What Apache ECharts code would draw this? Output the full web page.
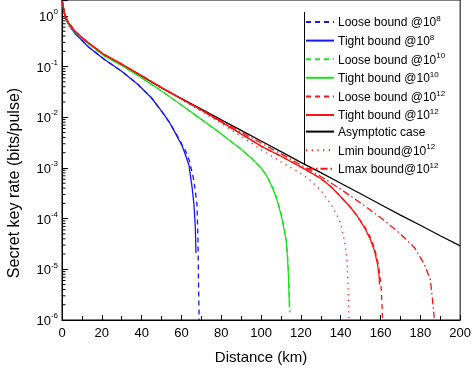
<!DOCTYPE html>
<html>
<head>
<meta charset="utf-8">
<script src="https://cdn.jsdelivr.net/npm/echarts@6/dist/echarts.min.js"></script>
<style>
html,body{margin:0;padding:0;background:#fff;}
#c{width:474px;height:370px;}
</style>
</head>
<body>
<div id="c"></div>
<script>
// ---- data (distance in km, secret key rate in bits/pulse) ----
const xTicks = [0, 20, 40, 60, 80, 100, 120, 140, 160, 180, 200];
const yDecades = [-6, -5, -4, -3, -2, -1, 0];
const yMinorMults = [2, 3, 4, 5, 6, 7, 8, 9];

const distBlueTight = [0, 0.5, 1.5, 3.3, 6.5, 10, 13, 21, 30, 38, 45, 50, 54, 57, 60.3, 62, 63.8, 65.4, 66.3, 67, 67.3];
const rateBlueTight = [2.05, 1.55, 0.95, 0.68, 0.45, 0.33, 0.25, 0.141, 0.081, 0.0447, 0.024, 0.0132, 0.0079, 0.0048, 0.00275, 0.00182, 0.00112, 0.0004, 0.000186, 6.3e-5, 2.1e-5];

const distBlueLoose = [0, 0.5, 1.5, 3.3, 6.5, 10, 13, 21, 30, 38, 45, 50, 54, 57, 60.3, 62, 64, 66, 67, 67.8, 68.3, 68.6, 68.9];
const rateBlueLoose = [2.05, 1.55, 0.95, 0.68, 0.45, 0.33, 0.25, 0.141, 0.081, 0.0447, 0.024, 0.0132, 0.0079, 0.005, 0.0029, 0.0022, 0.00138, 0.00063, 0.00035, 0.000186, 4e-5, 5e-6, 1e-6];

const distGreenTight = [0, 0.5, 1.5, 3.3, 6.5, 10, 13, 21, 30, 40, 50, 60, 70, 80, 90, 95, 100, 103, 106, 108, 110, 111.5, 112.7, 113.3, 113.8, 114.2];
const rateGreenTight = [2.1, 1.58, 0.98, 0.70, 0.48, 0.36, 0.29, 0.165, 0.105, 0.06, 0.033, 0.0174, 0.0091, 0.0047, 0.00234, 0.00158, 0.001, 0.00068, 0.00038, 0.000234, 0.00012, 6.3e-5, 3.5e-5, 1.58e-5, 7.1e-6, 1.78e-6];

const distGreenLoose = [0, 0.5, 1.5, 3.3, 6.5, 10, 13, 21, 30, 40, 50, 60, 70, 80, 90, 95, 100, 103, 106, 108, 110, 111.5, 112.7, 113.4, 114, 114.5];
const rateGreenLoose = [2.1, 1.58, 0.98, 0.70, 0.48, 0.36, 0.29, 0.165, 0.105, 0.06, 0.033, 0.0174, 0.0091, 0.0047, 0.00234, 0.00158, 0.001, 0.00069, 0.0004, 0.00025, 0.00013, 7e-5, 3.8e-5, 1.6e-5, 6e-6, 1.4e-6];

const distRedTight = [0, 0.5, 1.5, 3.3, 6.5, 10, 13, 21, 30, 40, 50, 60, 70, 80, 90, 100, 110, 120, 130, 135, 140, 145, 148, 152, 155, 157, 158.5, 159.2, 159.5];
const rateRedTight = [2.15, 1.62, 1.02, 0.73, 0.50, 0.375, 0.30, 0.175, 0.112, 0.066, 0.0385, 0.0229, 0.0138, 0.0081, 0.0047, 0.0027, 0.0017, 0.00105, 0.00062, 0.00043, 0.00027, 0.000166, 0.000117, 6.6e-5, 3.8e-5, 2.3e-5, 1.26e-5, 7.9e-6, 5.0e-6];

const distRedLoose = [0, 0.5, 1.5, 3.3, 6.5, 10, 13, 21, 30, 40, 50, 60, 70, 80, 90, 100, 110, 120, 130, 135, 140, 145, 148, 152, 155, 157, 159, 160.2, 160.7, 161];
const rateRedLoose = [2.15, 1.62, 1.02, 0.73, 0.50, 0.375, 0.30, 0.175, 0.112, 0.066, 0.0385, 0.0229, 0.0138, 0.0081, 0.0047, 0.0027, 0.0017, 0.00105, 0.00062, 0.00043, 0.00027, 0.000166, 0.000117, 7.0e-5, 4.2e-5, 2.6e-5, 1.2e-5, 5.0e-6, 2.2e-6, 1.0e-6];

const distAsym = [0, 0.5, 1.5, 3.3, 6.5, 10, 13, 21, 30, 40, 50, 60, 70, 80, 90, 100, 110, 120, 130, 140, 150, 160, 170, 180, 190, 200];
const rateAsym = [2.1, 1.6, 1.0, 0.72, 0.49, 0.37, 0.295, 0.17, 0.11, 0.065, 0.038, 0.0234, 0.0145, 0.0089, 0.0055, 0.0034, 0.0021, 0.00129, 0.00081, 0.0005, 0.00031, 0.00019, 0.000117, 7.4e-5, 4.6e-5, 2.9e-5];

const distLmin = [0, 0.5, 1.5, 3.3, 6.5, 10, 13, 21, 30, 40, 50, 60, 70, 80, 90, 100, 110, 120, 125, 130, 135, 138, 140, 142, 143, 143.6, 144, 144.2];
const rateLmin = [2.15, 1.62, 1.02, 0.73, 0.50, 0.375, 0.30, 0.175, 0.112, 0.066, 0.0385, 0.0224, 0.0132, 0.0076, 0.0042, 0.0023, 0.00132, 0.00078, 0.00056, 0.00036, 0.000195, 0.00012, 7.9e-5, 3.5e-5, 1.78e-5, 6.0e-6, 1.6e-6, 1.0e-6];

const distLmax = [0, 0.5, 1.5, 3.3, 6.5, 10, 13, 21, 30, 40, 50, 60, 70, 80, 90, 100, 110, 120, 130, 140, 150, 160, 168.6, 172, 177, 182, 185, 186, 187];
const rateLmax = [2.15, 1.62, 1.02, 0.73, 0.50, 0.375, 0.30, 0.175, 0.112, 0.066, 0.0385, 0.0234, 0.0141, 0.0085, 0.0051, 0.0031, 0.0019, 0.00115, 0.00068, 0.00038, 0.000204, 0.000105, 5.6e-5, 4.2e-5, 2.7e-5, 1.26e-5, 6.3e-6, 2.8e-6, 1.1e-6];

const legendNames = [
  'Loose bound @10^8', 'Tight bound @10^8',
  'Loose bound @10^10', 'Tight bound @10^10',
  'Loose bound @10^12', 'Tight bound @10^12',
  'Asymptotic case', 'Lmin bound@10^12', 'Lmax bound@10^12'
];

function pairs(xs, ys) { return xs.map((x, i) => [x, ys[i]]); }

const BLUE = '#1515ff', GREEN = '#1ee01e', RED = '#ff1010', BLACK = '#000000';

function lineSeries(name, xs, ys, color, type, z) {
  return {
    name: name, type: 'line', data: pairs(xs, ys),
    symbol: 'none', smooth: false,
    lineStyle: { color: color, width: 1.3, type: type },
    itemStyle: { color: color },
    z: z, animation: false
  };
}

const minorTickData = [];
yDecades.forEach(function (d) {
  yMinorMults.forEach(function (m) {
    const v = m * Math.pow(10, d);
    if (v <= 2.06) minorTickData.push([0, v]);
  });
});

const chart = echarts.init(document.getElementById('c'), null, { renderer: 'canvas' });

const FONT = 'Liberation Sans, Arial, sans-serif';

chart.setOption({
  animation: false,
  backgroundColor: '#fff',
  grid: { left: 62, right: 11, top: 0, bottom: 47, show: true, borderColor: '#000', borderWidth: 1 },
  xAxis: {
    type: 'value', min: 0, max: 200, interval: 20,
    name: 'Distance (km)', nameLocation: 'middle', nameGap: 30,
    nameTextStyle: { fontFamily: FONT, fontSize: 15, color: '#000' },
    axisLine: { show: true, lineStyle: { color: '#000', width: 1 } },
    axisTick: { inside: true, length: 5, lineStyle: { color: '#000' } },
    minorTick: { show: true, splitNumber: 2, length: 4, lineStyle: { color: '#000' } },
    splitLine: { show: false },
    axisLabel: { fontFamily: FONT, fontSize: 13, color: '#000', margin: 7 }
  },
  yAxis: {
    type: 'log', logBase: 10, min: 1e-6, max: 2.06, interval: 1,
    axisLine: { show: true, lineStyle: { color: '#000', width: 1 } },
    axisTick: { inside: true, length: 6, lineStyle: { color: '#000' } },
    splitLine: { show: false },
    axisLabel: {
      margin: 4, color: '#000', fontFamily: FONT,
      formatter: function (v) {
        const e = Math.log10(v);
        const r = Math.round(e);
        if (Math.abs(e - r) > 1e-6) return '';
        return '{b|10}{s|' + r + '}';
      },
      rich: {
        b: { fontFamily: FONT, fontSize: 13, color: '#000', lineHeight: 16, verticalAlign: 'bottom' },
        s: { fontFamily: FONT, fontSize: 8, color: '#000', lineHeight: 16, verticalAlign: 'top' }
      }
    }
  },
  legend: {
    data: legendNames,
    orient: 'vertical', left: 305, top: 15,
    padding: 0, itemWidth: 28, itemHeight: 12, itemGap: 4.6,
    itemStyle: { opacity: 0, borderWidth: 0 },
    textStyle: { fontFamily: FONT, fontSize: 12, color: '#000', padding: [0, 0, 0, -1] },
    formatter: function (name) {
      const parts = name.split('^');
      if (parts.length === 1) return '{t|' + name + '}';
      return '{t|' + parts[0] + '}{s|' + parts[1] + '}';
    },
    selectedMode: false
  },
  textStyle: { fontFamily: FONT },
  graphic: [
    { type: 'line', shape: { x1: 304.5, y1: 12, x2: 304.5, y2: 165 }, style: { stroke: '#000', lineWidth: 1 }, z: 100 },
    { type: 'text', x: 15, y: 183, rotation: Math.PI / 2,
      style: { text: 'Secret key rate (bits/pulse)', font: '16px ' + FONT, fill: '#000', textAlign: 'center', textVerticalAlign: 'middle' } }
  ],
  series: [
    lineSeries(legendNames[6], distAsym, rateAsym, BLACK, 'solid', 2),
    lineSeries(legendNames[0], distBlueLoose, rateBlueLoose, BLUE, [5, 4], 3),
    lineSeries(legendNames[1], distBlueTight, rateBlueTight, BLUE, 'solid', 3),
    lineSeries(legendNames[2], distGreenLoose, rateGreenLoose, GREEN, [5, 4], 3),
    lineSeries(legendNames[3], distGreenTight, rateGreenTight, GREEN, 'solid', 3),
    lineSeries(legendNames[7], distLmin, rateLmin, RED, [1.2, 4.5], 3),
    lineSeries(legendNames[8], distLmax, rateLmax, RED, [7, 3, 1.5, 3], 3),
    lineSeries(legendNames[4], distRedLoose, rateRedLoose, RED, [5, 4], 4),
    lineSeries(legendNames[5], distRedTight, rateRedTight, RED, 'solid', 4),
    {
      type: 'custom', name: 'yminor', silent: true, animation: false, z: 5,
      data: minorTickData, encode: { x: 0, y: 1 },
      renderItem: function (params, api) {
        const p = api.coord([api.value(0), api.value(1)]);
        return { type: 'line', shape: { x1: p[0], y1: p[1], x2: p[0] + 3.5, y2: p[1] }, style: { stroke: '#000', lineWidth: 1 } };
      }
    }
  ]
});

chart.setOption({
  legend: {
    textStyle: {
      rich: {
        t: { fontFamily: FONT, fontSize: 12, color: '#000', lineHeight: 14, verticalAlign: 'bottom' },
        s: { fontFamily: FONT, fontSize: 8, color: '#000', lineHeight: 14, verticalAlign: 'top' }
      }
    }
  }
});
</script>
</body>
</html>
